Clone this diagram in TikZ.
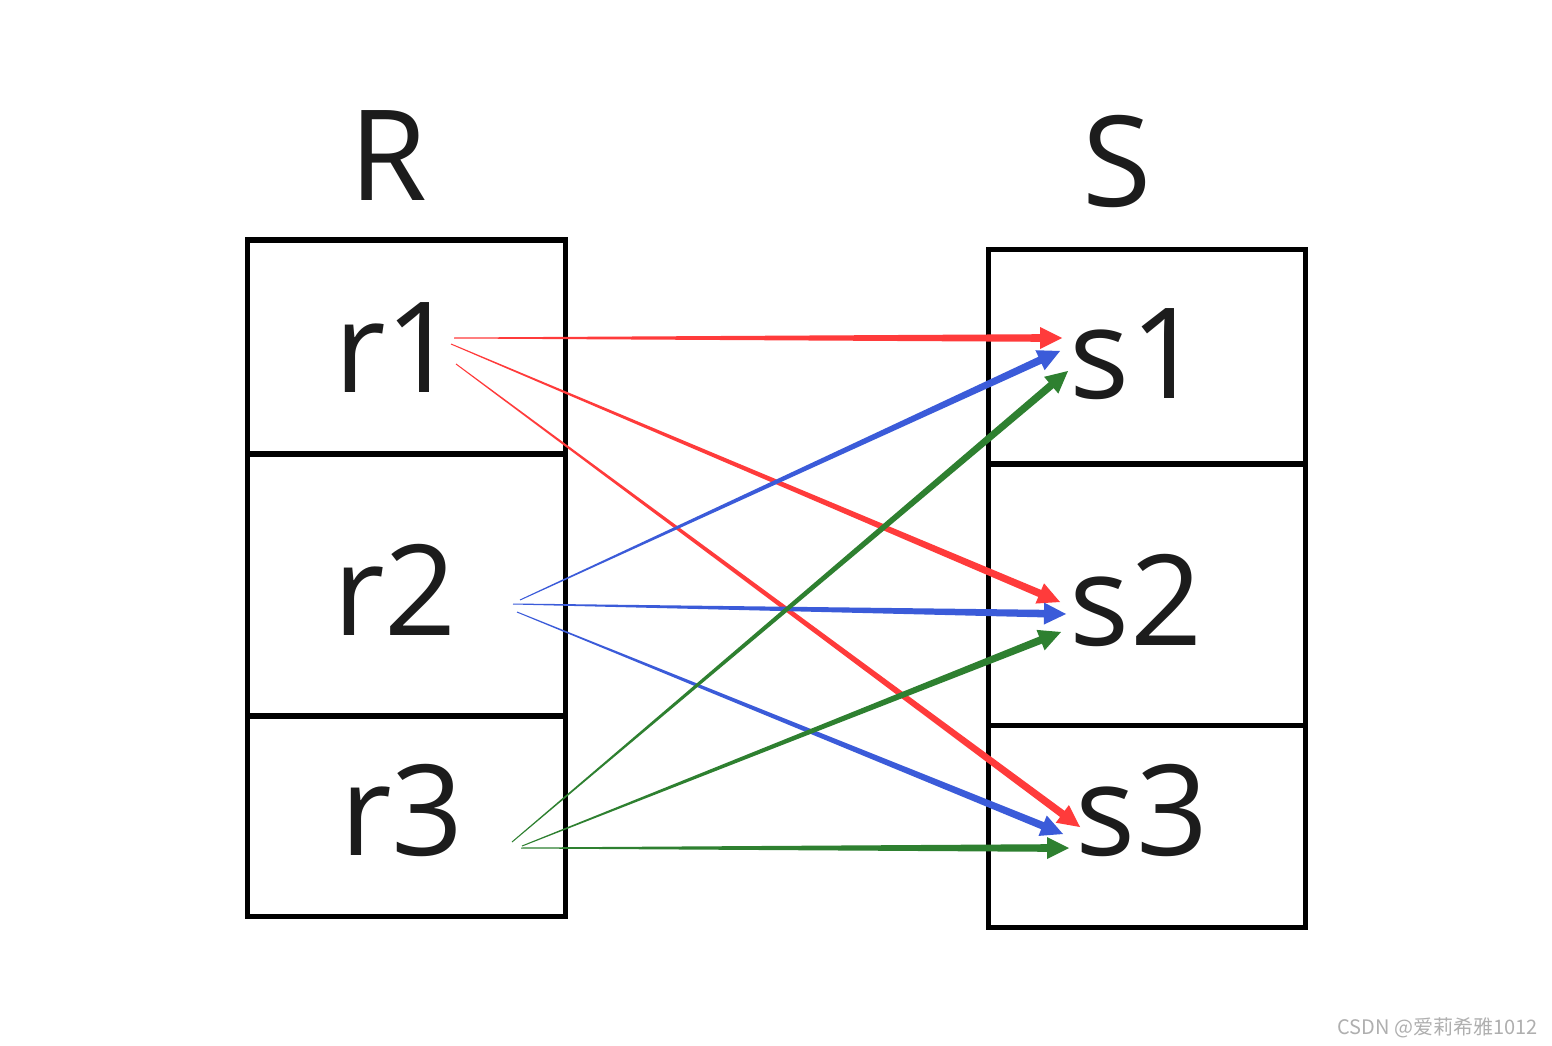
\documentclass[tikz,border=0pt]{standalone}
\usepackage{fontspec}
\setmainfont{Open Sans}
\newfontfamily\cjkwm{Noto Sans CJK SC}
\usetikzlibrary{calc}
\definecolor{cred}{RGB}{255,59,59}
\definecolor{cblue}{RGB}{59,91,217}
\definecolor{cgreen}{RGB}{46,128,48}
\definecolor{cink}{RGB}{28,28,28}
\definecolor{cwm}{RGB}{175,175,175}
\tikzset{
  box/.style={draw=black,line width=5.5pt},
  lab/.style={anchor=base,inner sep=0pt,text=cink,font=\fontsize{126}{130}\selectfont},
}
% tapered arrow: #1 start coordinate, #2 tip coordinate, #3 colour
\newcommand\tarrow[3]{%
  \path coordinate (tb) at ($(#2)!22pt!(#1)$);
  \fill[#3] ($(#1)!0.5pt!90:(#2)$) -- ($(tb)!3.8pt!-90:(#1)$) -- ($(tb)!11pt!-90:(#1)$)
     -- (#2) -- ($(tb)!11pt!90:(#1)$) -- ($(tb)!3.8pt!90:(#1)$) -- ($(#1)!0.5pt!-90:(#2)$) -- cycle;
}
\begin{document}
\begin{tikzpicture}[x=1pt,y=-1pt]
\useasboundingbox[fill=white] (0,0) rectangle (1552,1046);
% boxes
\draw[box] (247.5,240) rectangle (565.5,916.5);
\draw[box] (247.5,454) -- (565.5,454);
\draw[box] (247.5,716) -- (565.5,716);
\draw[box] (988.5,249.5) rectangle (1305.5,927.5);
\draw[box] (988.5,464) -- (1305.5,464);
\draw[box] (988.5,725.5) -- (1305.5,725.5);
% labels
\node[lab] (R) at (388,200) {R};
\node[lab] (S) at (1117,206) {S};
\node[lab] (r1) at (396,392) {r1};
\node[lab] (r2) at (395,635) {r2};
\node[lab] (r3) at (402,855) {r3};
\node[lab] (s1) at (1136,398) {s1};
\node[lab] (s2) at (1136,645) {s2};
\node[lab] (s3) at (1142,855) {s3};
% arrow end points
\coordinate (a11) at (454,338); \coordinate (b11) at (1062,338);
\coordinate (a12) at (451,344); \coordinate (b12) at (1060,602);
\coordinate (a13) at (456,364); \coordinate (b13) at (1080,827);
\coordinate (a21) at (520,600); \coordinate (b21) at (1060,351);
\coordinate (a22) at (513,604); \coordinate (b22) at (1066,614);
\coordinate (a23) at (517,612); \coordinate (b23) at (1063,834);
\coordinate (a31) at (512,842); \coordinate (b31) at (1068,371);
\coordinate (a32) at (522,846); \coordinate (b32) at (1061,632);
\coordinate (a33) at (521,848); \coordinate (b33) at (1069,848);
% arrows
\tarrow{a11}{b11}{cred}
\tarrow{a12}{b12}{cred}
\tarrow{a13}{b13}{cred}
\tarrow{a21}{b21}{cblue}
\tarrow{a22}{b22}{cblue}
\tarrow{a23}{b23}{cblue}
\tarrow{a31}{b31}{cgreen}
\tarrow{a32}{b32}{cgreen}
\tarrow{a33}{b33}{cgreen}
% watermark
\node[anchor=base east,inner sep=0pt,text=cwm,font=\cjkwm\fontsize{20}{23}\selectfont] (wm) at (1538,1034) {CSDN @爱莉希雅1012};
\end{tikzpicture}
\end{document}
